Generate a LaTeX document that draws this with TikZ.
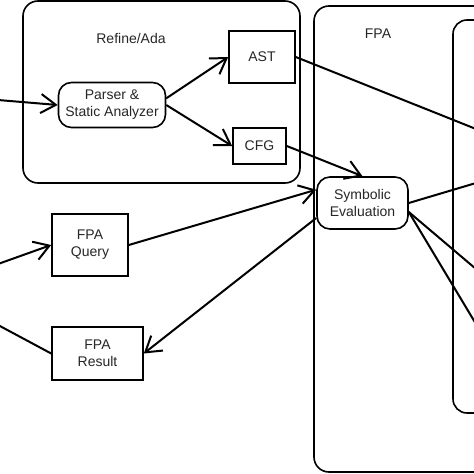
\documentclass[tikz,border=0pt]{standalone}
\usepackage{fontspec}
\setmainfont{Liberation Sans}
\usetikzlibrary{arrows.meta}
\tikzset{
  frame/.style={draw=black, line width=1.6pt, rounded corners=15pt},
  boxnode/.style={draw=black, line width=1.6pt, minimum width=#1, inner sep=0pt, align=center, text=black!85},
  roundnode/.style={draw=black, line width=1.6pt, rounded corners=13pt, inner sep=0pt, align=center, text=black!85},
  lbl/.style={text=black!85, inner sep=0pt},
  conn/.style={line width=2pt},
  arr/.style={conn, -{Straight Barb[length=15pt,width=19pt,line width=2pt]}},
}
\begin{document}
\begin{tikzpicture}[x=1pt,y=-1pt, font=\fontsize{14}{17}\selectfont]
\useasboundingbox (0,0) rectangle (474,474);
\clip (0,0) rectangle (474,474);
% containers
\draw[frame] (23,1) rectangle (300,183);
\draw[frame] (314,6) rectangle (500,472);
\draw[frame, rounded corners=14pt] (453,20) rectangle (500,413);
\node[lbl] (refinelbl) at (131,38) {Refine/Ada};
\node[lbl] (fpalbl) at (378,34) {FPA};
% nodes
\node[roundnode, minimum width=107pt, minimum height=45pt] (parser) at (112,105) {Parser \&\\Static Analyzer};
\node[boxnode=66pt, minimum height=52pt] (ast) at (262,57) {AST};
\node[boxnode=53pt, minimum height=36pt] (cfg) at (259.5,146) {CFG};
\node[roundnode, minimum width=91pt, minimum height=52pt] (sym) at (362.5,203) {Symbolic\\Evaluation};
\node[boxnode=76pt, minimum height=62pt] (query) at (90,245) {FPA\\Query};
\node[boxnode=91pt, minimum height=53pt] (result) at (97.5,353.5) {FPA\\Result};
% free ends
\coordinate (in1) at (-2,100);
\coordinate (in2) at (-2,264);
\coordinate (in3) at (-2,325);
\coordinate (out1) at (476,129);
\coordinate (out2) at (476,183);
\coordinate (out3) at (476,269);
\coordinate (out4) at (476,324);
% connectors
\draw[arr] (in1) -- (parser.west);
\draw[arr] (parser.7) -- (ast.west);
\draw[arr] (parser.east) -- (cfg.west);
\draw[conn] (ast.east) -- (out1);
\draw[arr] (cfg.east) -- (sym.north);
\draw[conn] (sym.east) -- (out2);
\draw[conn] (sym.-11) -- (out3);
\draw[conn] (sym.-11) -- (out4);
\draw[arr] (in2) -- (query.west);
\draw[arr] (query.east) -- (sym.164);
\draw[arr] (sym.198) -- (result.east);
\draw[conn] (in3) -- (result.west);
\end{tikzpicture}
\end{document}
